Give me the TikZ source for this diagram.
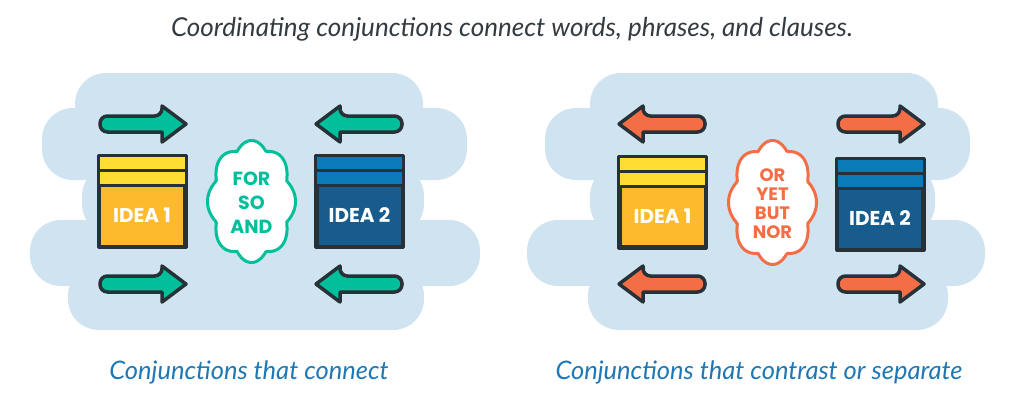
\documentclass[tikz,border=0pt]{standalone}
\usepackage{fontspec}
\setmainfont{Lato}
\newfontfamily\pop{Poppins}
\definecolor{bgc}{HTML}{D0E3F0}
\definecolor{teal}{HTML}{00BF9A}
\definecolor{orng}{HTML}{F46E45}
\definecolor{ylw}{HTML}{FFDD33}
\definecolor{ylwd}{HTML}{FDBA2C}
\definecolor{bl}{HTML}{0A7AB8}
\definecolor{bld}{HTML}{175C8C}
\definecolor{ink}{HTML}{263238}
\definecolor{cap}{HTML}{1F78B4}
\definecolor{ttl}{HTML}{333B40}
\begin{document}
\begin{tikzpicture}[x=1pt,y=-1pt,
  blob/.style={fill=bgc,rounded corners=31pt},
  outl/.style={draw=ink,line width=3pt,line join=round},
  rarr/.pic={\path[pic actions,draw=ink,line width=3.5pt,line join=round] (86,0) -- (62,18) -- (62,8) [rounded corners=7.5pt] -- (0,8) -- (0,-8) -- (62,-8) [sharp corners] -- (62,-18) -- cycle;},
  idea/.style={outl,minimum width=85pt,minimum height=89pt,inner sep=0pt},
  ideatxt/.style={text=white,font=\pop\bfseries\fontsize{20}{20}\selectfont},
  cloudtxt/.style={font=\pop\bfseries\fontsize{19}{24}\selectfont,align=center},
  captn/.style={text=cap,font=\itshape\fontsize{25.5}{25.5}\selectfont}]
\useasboundingbox (0,0) rectangle (1024,415);
\node[text=ttl,font=\itshape\fontsize{26}{26}\selectfont] (title) at (512,29) {Coordinating conjunctions connect words, phrases, and clauses.};
% backgrounds
\foreach \a/\b/\c/\d/\e/\f/\g/\h/\i/\j in {75/423/42/467/82/424/30/480/68/424, 590/938/545/970/590/935/527/985/588/948}{
  \fill[blob] (\a,73) rectangle (\b,140);
  \fill[blob] (\c,108) rectangle (\d,180);
  \fill[blob] (\e,165) rectangle (\f,235);
  \fill[blob] (\g,220) rectangle (\h,286);
  \fill[blob] (\i,265) rectangle (\j,330);
}
% ideas
\foreach \n/\cx/\cy/\lo/\hi in {i1/142/201.5/ylwd/ylw, i2/359.5/201.5/bld/bl, i3/662.5/202/ylwd/ylw, i4/880/204.5/bld/bl}{
  \node[idea,fill=\lo] (\n) at (\cx,\cy) {};
  \fill[\hi] (\n.north west) rectangle ([yshift=-30pt]\n.north east);
  \draw[outl] ([yshift=-15pt]\n.north west) -- ([yshift=-15pt]\n.north east) ([yshift=-30pt]\n.north west) -- ([yshift=-30pt]\n.north east);
  \draw[outl] (\n.north west) rectangle (\n.south east);
}
\node[ideatxt] (t1) at ([yshift=-14pt]i1.center) {IDEA 1};
\node[ideatxt] (t2) at ([yshift=-14pt]i2.center) {IDEA 2};
\node[ideatxt] (t3) at ([yshift=-14pt]i3.center) {IDEA 1};
\node[ideatxt] (t4) at ([yshift=-14pt]i4.center) {IDEA 2};
% clouds
\draw[teal,line width=3pt,fill=white] plot[domain=0:360,samples=180,smooth cycle] ({251.5+(38+6*abs(cos(4*\x)))*cos(\x)},{201.5+(54+7*abs(cos(4*\x)))*sin(\x)});
\node[cloudtxt,text=teal] (c1) at (251.5,203) {FOR\\SO\\AND};
\draw[orng,line width=3pt,fill=white] plot[domain=0:360,samples=180,smooth cycle] ({772.5+(38+6*abs(cos(4*\x)))*cos(\x)},{202.5+(55+7*abs(cos(4*\x)))*sin(\x)});
\node[cloudtxt,text=orng,font=\pop\bfseries\fontsize{18}{19}\selectfont] (c2) at (772.5,204) {OR\\YET\\BUT\\NOR};
% arrows
\pic[fill=teal] at (100,124) {rarr};
\pic[fill=teal] at (100,284) {rarr};
\pic[fill=teal,xscale=-1] at (402,124) {rarr};
\pic[fill=teal,xscale=-1] at (402,284) {rarr};
\pic[fill=orng,xscale=-1] at (705,124) {rarr};
\pic[fill=orng,xscale=-1] at (705,284) {rarr};
\pic[fill=orng] at (838,124) {rarr};
\pic[fill=orng] at (838,284) {rarr};
\node[captn] (cap1) at (249,372) {Conjunctions that connect};
\node[captn] (cap2) at (759,372) {Conjunctions that contrast or separate};
\end{tikzpicture}
\end{document}
